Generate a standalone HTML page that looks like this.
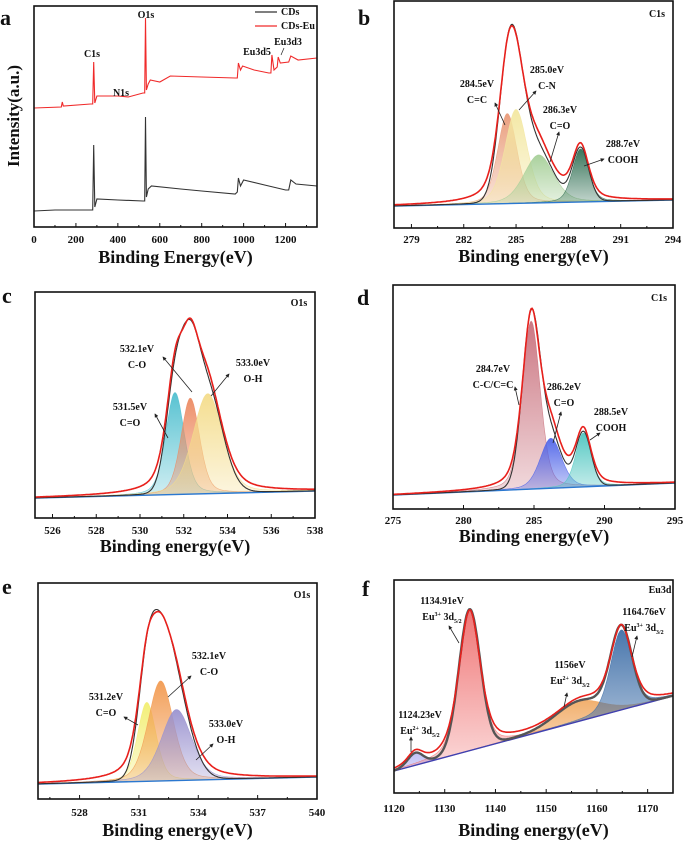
<!DOCTYPE html>
<html><head><meta charset="utf-8"><style>
html,body{margin:0;padding:0;background:#fff}
svg{display:block;font-family:"Liberation Serif",serif;font-weight:bold}
</style></head><body>
<svg id="fig" width="685" height="842" viewBox="0 0 685 842" xmlns="http://www.w3.org/2000/svg">
<defs>
<marker id="arr" viewBox="0 0 6 6" refX="5" refY="3" markerWidth="5" markerHeight="5" orient="auto"><path d="M0,0L6,3L0,6z" fill="#222"/></marker>
</defs>
</svg>
<script>
// ---------- Panel a (survey) data ----------
const aCdsX=[0,100,150,270,280,285,290,300,400,520,528,532,536,545,560,700,800,960,970,975,985,1000,1100,1200,1215,1225,1250,1350];
const aCdsY=[16,17,17,17,17,82,20,28,27,26,26,110,30,38,41,38,36,33,35,49,41,47,42,37,37,47,43,41];
const aEuX=[0,130,135,140,270,280,285,290,300,400,450,520,528,532,536,545,555,600,650,800,960,970,975,985,995,1050,1120,1130,1135,1145,1160,1165,1175,1215,1225,1260,1350];
const aEuY=[119,120,125,121,123,123,165,124,131,131,130,134,134,209,137,143,147,145,151,150,149,149,164,157,161,157,154,154,172,157,160,170,164,165,171,167,169];
const aTicks=[0,200,400,600,800,1000,1200];
// ---------- Panel b (C1s) ----------
const bCenters=[284.5,285.0,286.3,288.7];
const bHeights=[90,94,48,53];
const bWidths=[1.3,1.5,2.0,1.1];
const bBase=[22,28];
const bTicks=[279,282,285,288,291,294];
// ---------- Panel c (O1s) ----------
const cCenters=[531.6,532.3,533.1];
const cHeights=[102,96,100];
const cWidths=[1.0,1.0,1.6];
const cBase=[20,27];
const cTicks=[526,528,530,532,534,536,538];
// ---------- Panel d (C1s) ----------
const dCenters=[284.8,286.2,288.5];
const dHeights=[168,50,54];
const dWidths=[1.5,1.8,1.3];
const dBase=[14,26];
const dTicks=[275,280,285,290,295];
// ---------- Panel e (O1s) ----------
const eCenters=[531.4,532.1,532.9];
const eHeights=[79,100,71];
const eWidths=[1.1,1.5,1.8];
const eBase=[15,22];
const eTicks=[528,531,534,537,540];
// ---------- Panel f (Eu3d) ----------
const fCenters=[1124.2,1134.9,1156.5,1164.8];
const fHeights=[12,140,20,80];
const fWidths=[3.5,5,11,5];
const fBase=[22,97];
const fTicks=[1120,1130,1140,1150,1160,1170];

const NS='http://www.w3.org/2000/svg';
const svg=document.getElementById('fig');
function el(tag,attrs,parent){const e=document.createElementNS(NS,tag);for(const k in attrs)e.setAttribute(k,attrs[k]);(parent||svg).appendChild(e);return e;}
function txt(s,x,y,size,anchor,parent){const t=el('text',{x:x,y:y,'font-size':size,'text-anchor':anchor||'middle',fill:'#111'},parent);t.textContent=s;return t;}
function pv(x,c,h,w,eta){const d=(x-c)/w;return h*((1-eta)*Math.exp(-4*Math.LN2*d*d)+eta/(1+4*d*d));}

function frame(g,P){
  const r=el('rect',{x:P.l,y:P.t,width:P.r-P.l,height:P.b-P.t,fill:'none',stroke:'#111','stroke-width':1.6},g);
  
  
}
function xaxis(g,P,ticks,minorStep,sx,labelY,title,titleY){
  const ax=el('g',{},g);
  
  
  for(let v=ticks[0]-minorStep*Math.ceil((ticks[0]-P.x0)/minorStep);v<=P.x1+1e-9;v+=minorStep){
    const x=sx(v);if(x<P.l-0.5||x>P.r+0.5)continue;
    const major=ticks.some(t=>Math.abs(t-v)<1e-6);
    el('line',{x1:x,x2:x,y1:P.b,y2:P.b-(major?4:2),stroke:'#111','stroke-width':1},ax);
  }
  ticks.forEach(t=>{const lt=txt(String(t),sx(t),labelY,11,'middle',ax);});
  const tt=txt(title,(P.l+P.r)/2,titleY,18,'middle',ax);
  
  
}
function note(g,lines,x,y,arrow){
  const n=el('g',{},g);
  
  
  lines.forEach((s,i)=>{const t=txt('',x,y+i*16,10,'middle',n);t.innerHTML=s;});
  if(arrow)el('line',{x1:arrow[0],y1:arrow[1],x2:arrow[2],y2:arrow[3],stroke:'#222','stroke-width':0.8,'marker-end':'url(#arr)'},n);
}

function fitPanel(name,P,centers,heights,widths,base,colors,opts){
  const g=el('g',{});
  
  
  const sx=v=>P.l+(v-P.x0)/(P.x1-P.x0)*(P.r-P.l);
  const basev=v=>base[0]+(base[1]-base[0])*(v-P.x0)/(P.x1-P.x0);
  const sy=v=>P.b-v;
  const N=300,xs=[];for(let i=0;i<=N;i++)xs.push(P.x0+(P.x1-P.x0)*i/N);
  centers.forEach((c,k)=>{
    const gid=name+'g'+k;
    const lg=el('linearGradient',{id:gid,x1:0,y1:0,x2:0,y2:1},svg.querySelector('defs'));
    el('stop',{offset:'0','stop-color':colors[k],'stop-opacity':0.95},lg);
    el('stop',{offset:'1','stop-color':colors[k],'stop-opacity':0.25},lg);
    let d='',top='';
    xs.forEach((x,i)=>{const y=sy(basev(x)+pv(x,c,heights[k],widths[k],0.3));top+=(i?'L':'M')+sx(x).toFixed(1)+','+y.toFixed(1);});
    for(let i=N;i>=0;i--)d+='L'+sx(xs[i]).toFixed(1)+','+sy(basev(xs[i])).toFixed(1);
    const p=el('path',{d:top+d+'Z',fill:'url(#'+gid+')',stroke:colors[k],'stroke-width':0.6,'stroke-opacity':0.8},g);
    
    
  });
  const bl=el('line',{x1:sx(P.x0),y1:sy(basev(P.x0)),x2:sx(P.x1),y2:sy(basev(P.x1)),stroke:opts.baseColor||'#2b78d0','stroke-width':1.4},g);
  
  
  let raw='',env='';
  xs.forEach((x,i)=>{
    let s1=0,s2=0;centers.forEach((c,k)=>{s1+=pv(x,c,heights[k],widths[k],0.05);s2+=pv(x,c,heights[k],widths[k],0.45);});
    raw+=(i?'L':'M')+sx(x).toFixed(1)+','+sy(basev(x)+s1*1.01).toFixed(1);
    env+=(i?'L':'M')+sx(x).toFixed(1)+','+sy(basev(x)+s2).toFixed(1);
  });
  const rp=el('path',{d:raw,fill:'none',stroke:opts.rawColor||'#333','stroke-width':opts.rawW||1.1},g);
  
  
  const ep=el('path',{d:env,fill:'none',stroke:'#e8201c','stroke-width':1.6},g);
  
  
  frame(g,P);
  return {g,sx};
}

// ---------- Panel a ----------
(function(){
  const P={l:34,r:317,t:6,b:227,x0:0,x1:1350};
  const g=el('g',{});
  
  
  const sx=v=>P.l+(v-P.x0)/(P.x1-P.x0)*(P.r-P.l);
  const sy=v=>P.b-v;
  function line(X,Y,col,nm){let d='';X.forEach((x,i)=>{d+=(i?'L':'M')+sx(x).toFixed(1)+','+sy(Y[i]).toFixed(1);});const p=el('path',{d:d,fill:'none',stroke:col,'stroke-width':1.1},g);}
  line(aCdsX,aCdsY,'#333','cds-line');
  line(aEuX,aEuY,'#f02a2a','cds-eu-line');
  frame(g,P);
  xaxis(g,P,aTicks,100,sx,243,'Binding Energy(eV)',263);
  const yt=txt('Intensity(a.u.)',0,0,17,'middle',g);
  yt.setAttribute('transform','translate(19,116) rotate(-90)');
  
  
  txt('C1s',92,57,10,'middle',g);txt('N1s',121,96,10,'middle',g);txt('O1s',146,18,10,'middle',g);
  txt('Eu3d5',257,55,10,'middle',g);txt('Eu3d3',288,45,10,'middle',g);
  el('line',{x1:284,y1:48,x2:281,y2:55,stroke:'#222','stroke-width':0.7},g);
  const lg=el('g',{},g);
  
  
  el('line',{x1:255,x2:277,y1:12,y2:12,stroke:'#333','stroke-width':1.2},lg);txt('CDs',281,15,10,'start',lg);
  el('line',{x1:255,x2:277,y1:26,y2:26,stroke:'#f02a2a','stroke-width':1.2},lg);txt('CDs-Eu',281,29,10,'start',lg);
  txt('a',0,25,22,'start',g);
})();

// ---------- Panel b ----------
(function(){
  const P={l:394,r:673,t:1,b:228,x0:278,x1:294};
  const {g,sx}=fitPanel('panel-b-c1s',P,bCenters,bHeights,bWidths,bBase,['#e99a78','#f3e7a0','#a6cf98','#2f6e52'],{});
  xaxis(g,P,bTicks,1.5,sx,243,'Binding energy(eV)',262);
  txt('C1s',657,17,10,'middle',g);
  note(g,['284.5eV','C=C'],477,87,[505,125,495,103]);
  note(g,['285.0eV','C-N'],547,73,[519,110,536,91]);
  note(g,['286.3eV','C=O'],560,113,[550,162,559,132]);
  note(g,['288.7eV','COOH'],623,147,[584,166,604,159]);
  txt('b',358,25,22,'start',g);
})();

// ---------- Panel c ----------
(function(){
  const P={l:35,r:315,t:292,b:518,x0:525.2,x1:538};
  const {g,sx}=fitPanel('panel-c-o1s',P,cCenters,cHeights,cWidths,cBase,['#4fbfcf','#ec8a62','#f4dc8a'],{});
  xaxis(g,P,cTicks,1,sx,534,'Binding energy(eV)',552);
  txt('O1s',299,306,10,'middle',g);
  note(g,['532.1eV','C-O'],137,352,[192,392,163,357]);
  note(g,['533.0eV','O-H'],253,366,[211,396,229,374]);
  note(g,['531.5eV','C=O'],130,410,[168,438,155,414]);
  txt('c',2,303,22,'start',g);
})();

// ---------- Panel d ----------
(function(){
  const P={l:393,r:675,t:285,b:509,x0:275,x1:295};
  const {g,sx}=fitPanel('panel-d-c1s',P,dCenters,dHeights,dWidths,dBase,['#c9707c','#4f64e8','#4ec6c0'],{});
  xaxis(g,P,dTicks,2.5,sx,524,'Binding energy(eV)',542);
  txt('C1s',659,301,10,'middle',g);
  note(g,['284.7eV','C-C/C=C'],493,372,[519,405,515,387]);
  note(g,['286.2eV','C=O'],564,390,[553,443,561,412]);
  note(g,['288.5eV','COOH'],611,415,[590,440,600,433]);
  txt('d',357,305,22,'start',g);
})();

// ---------- Panel e ----------
(function(){
  const P={l:38,r:317,t:583,b:799,x0:525.9,x1:540};
  const {g,sx}=fitPanel('panel-e-o1s',P,eCenters,eHeights,eWidths,eBase,['#f2ee70','#f29a50','#9a92cf'],{});
  xaxis(g,P,eTicks,1.5,sx,816,'Binding energy(eV)',836);
  txt('O1s',302,598,10,'middle',g);
  note(g,['532.1eV','C-O'],209,659,[168,697,191,676]);
  note(g,['531.2eV','C=O'],106,700,[138,725,124,717]);
  note(g,['533.0eV','O-H'],226,727,[196,760,213,744]);
  txt('e',2,594,22,'start',g);
})();

// ---------- Panel f ----------
(function(){
  const P={l:394,r:673,t:580,b:793,x0:1120,x1:1175};
  const {g,sx}=fitPanel('panel-f-eu3d',P,fCenters,fHeights,fWidths,fBase,['#6a6ae8','#ef6f6f','#f0a860','#3f6fa8'],{rawColor:'#555',rawW:2.4,baseColor:'#4040b0'});
  xaxis(g,P,fTicks,5,sx,812,'Binding energy(eV)',836);
  txt('Eu3d',660,593,10,'middle',g);
  note(g,['1134.91eV','Eu<tspan font-size="6" dy="-4">3+</tspan><tspan dy="4"> 3d</tspan><tspan font-size="6" dy="3">5/2</tspan>'],442,604,[459,643,449,626]);
  note(g,['1164.76eV','Eu<tspan font-size="6" dy="-4">3+</tspan><tspan dy="4"> 3d</tspan><tspan font-size="6" dy="3">3/2</tspan>'],644,615,[632,657,637,636]);
  note(g,['1156eV','Eu<tspan font-size="6" dy="-4">2+</tspan><tspan dy="4"> 3d</tspan><tspan font-size="6" dy="3">3/2</tspan>'],570,668,[564,707,567,693]);
  note(g,['1124.23eV','Eu<tspan font-size="6" dy="-4">2+</tspan><tspan dy="4"> 3d</tspan><tspan font-size="6" dy="3">5/2</tspan>'],420,718,[411,752,411,737]);
  txt('f',362,596,22,'start',g);
})();
</script>
</body></html>
